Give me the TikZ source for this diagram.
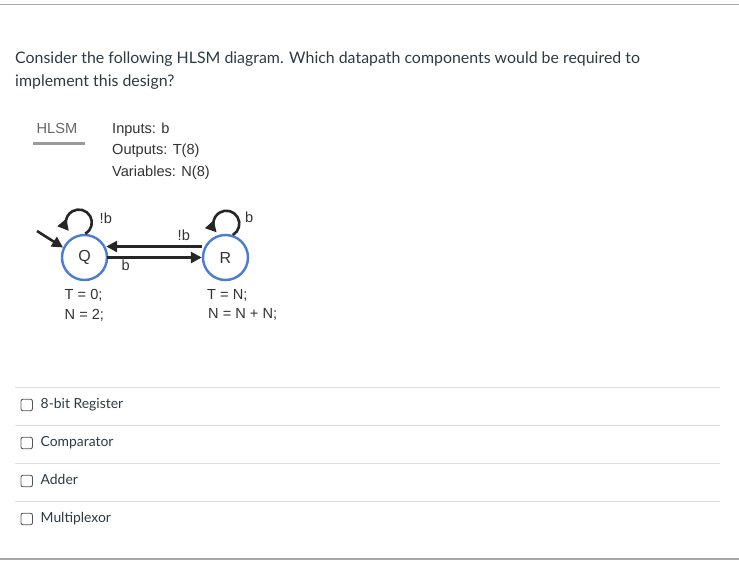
\documentclass[tikz,border=0pt]{standalone}
\usepackage{fontspec}
\setmainfont{Lato}
\newfontfamily\arialf{Liberation Sans}
\usetikzlibrary{arrows.meta}
\definecolor{qtext}{HTML}{2D3B45}
\definecolor{dtext}{HTML}{333333}
\definecolor{hgray}{HTML}{666666}
\definecolor{ulgray}{HTML}{9A9A9A}
\definecolor{sepgray}{HTML}{DDDDDD}
\definecolor{edgegray}{HTML}{A8A8A8}
\definecolor{stblue}{RGB}{74,124,212}
\definecolor{boxgray}{HTML}{555555}
\tikzset{
  qline/.style={anchor=base west, inner sep=0pt, text=qtext, font=\fontsize{15.9}{18}\selectfont},
  optlabel/.style={anchor=base west, inner sep=0pt, text=qtext, font=\fontsize{13.9}{17}\selectfont},
  dlabel/.style={anchor=base west, inner sep=0pt, text=dtext, font=\arialf\fontsize{14.6}{17}\selectfont},
  state/.style={circle, draw=stblue, line width=2.4pt, minimum size=45pt, inner sep=0pt, text=dtext, font=\arialf\fontsize{16}{19}\selectfont},
  arr/.style={draw=black!85, line width=2.6pt, -{Triangle[length=11pt,width=11pt]}},
  sep/.style={draw=sepgray, line width=1pt},
  chk/.style={draw=boxgray, line width=0.9pt, rounded corners=2pt, minimum size=11.5pt, inner sep=0pt}
}
\begin{document}
\begin{tikzpicture}[x=1pt,y=1pt]
\useasboundingbox (0,0) rectangle (739,-560);
\fill[white] (0,0) rectangle (739,-560);
% frame lines
\draw[edgegray, line width=1.5pt] (0,-4.3) -- (739,-4.3);
\draw[edgegray, line width=2pt] (0,-559) -- (739,-559);
% question
\node[qline] (q1) at (15,-63) {Consider the following HLSM diagram. Which datapath components would be required to};
\node[qline] (q2) at (15,-86) {implement this design?};
% header
\node[dlabel, text=hgray] (hl) at (36.5,-133) {HLSM};
\draw[ulgray, line width=3pt] (33,-143) -- (85,-143);
\node[dlabel] (in) at (112,-133) {Inputs: b};
\node[dlabel] (out) at (112,-154.5) {Outputs: T(8)};
\node[dlabel] (var) at (112,-176) {Variables: N(8)};
% states
\node[state] (Q) at (84.5,-257.5) {Q};
\node[state] (R) at (225.5,-257.5) {R};
\coordinate (init) at (37,-231);
\draw[arr] (init) -- (Q.155);
\draw[arr] ([yshift=11pt]R.west) -- ([yshift=11pt,xshift=-2pt]Q.east);
\draw[arr] ([xshift=-1pt]Q.east) -- (R.west);
\draw[arr] (Q.88) arc[start angle=-60, end angle=220, radius=13];
\draw[arr] (R.72) arc[start angle=-60, end angle=222, radius=13];
% edge labels
\node[dlabel] (lq) at (99.5,-223) {!b};
\node[dlabel] (lup) at (177.5,-240) {!b};
\node[dlabel] (llo) at (121.5,-270.5) {b};
\node[dlabel] (lr) at (245,-222) {b};
% actions
\node[dlabel] (qa1) at (64.5,-299.5) {T = 0;};
\node[dlabel] (qa2) at (64.5,-319) {N = 2;};
\node[dlabel] (ra1) at (207,-299.5) {T = N;};
\node[dlabel] (ra2) at (208,-318.5) {N = N + N;};
% options
\draw[sep] (15,-387.3) -- (720,-387.3);
\draw[sep] (15,-425.3) -- (720,-425.3);
\draw[sep] (15,-463.3) -- (720,-463.3);
\draw[sep] (15,-501.3) -- (720,-501.3);
\node[chk] (c1) at (26.7,-405) {};
\node[chk] (c2) at (26.7,-443) {};
\node[chk] (c3) at (26.7,-481) {};
\node[chk] (c4) at (26.7,-519) {};
\node[optlabel] (o1) at (40.5,-408.5) {8-bit Register};
\node[optlabel] (o2) at (40.5,-446.5) {Comparator};
\node[optlabel] (o3) at (40.5,-484.5) {Adder};
\node[optlabel] (o4) at (40.5,-522.5) {Multiplexor};
\end{tikzpicture}
\end{document}
